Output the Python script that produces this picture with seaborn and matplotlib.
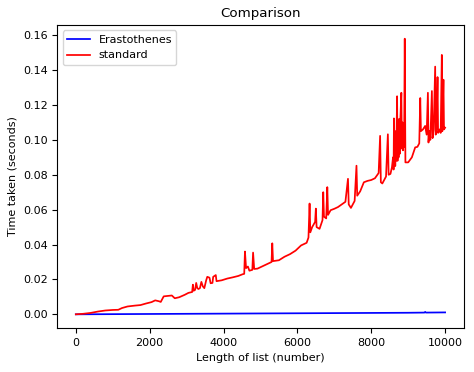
import pandas as pd
import matplotlib
matplotlib.use("Agg")
import matplotlib.pyplot as plt
import seaborn as sns

# dlugosc listy i czasy
dlugosc_std = [0, 200, 400, 600, 800, 1000, 1150, 1250, 1400, 1600, 1750, 1900, 2050, 2150, 2250, 2300,
               2380, 2500, 2600, 2680, 2800, 2950, 3050, 3150, 3170, 3190, 3230, 3260, 3290, 3320, 3360,
               3400, 3440, 3480, 3530, 3560, 3620, 3650, 3700, 3720, 3790, 3810, 3950, 4100, 4250, 4400,
               4520, 4560, 4580, 4610, 4660, 4700, 4780, 4800, 4830, 4920, 5050, 5200, 5300, 5320, 5340,
               5500, 5650, 5800, 5950, 6100, 6250, 6300, 6330, 6350, 6400, 6480, 6500, 6520, 6600, 6680,
               6700, 6720, 6780, 6810, 6830, 6900, 7000, 7100, 7200, 7300, 7370, 7390, 7450, 7550, 7600,
               7620, 7700, 7800, 7900, 8000, 8100, 8200, 8240, 8260, 8300, 8400, 8450, 8470, 8520, 8560,
               8590, 8605, 8615, 8625, 8640, 8650, 8665, 8675, 8690, 8700, 8712, 8725, 8740, 8755, 8770,
               8785, 8800, 8815, 8830, 8845, 8860, 8875, 8890, 8907, 8925, 9000, 9100, 9190, 9250, 9300,
               9327, 9345, 9400, 9460, 9500, 9534, 9550, 9575, 9600, 9642, 9660, 9690, 9731, 9745, 9770,
               9795, 9810, 9850, 9880, 9911, 9925, 9955, 9970, 10000]
czas_std = [0.0, 0.0003, 0.0008, 0.0016, 0.0022, 0.0025, 0.0026, 0.0036, 0.0045, 0.0050, 0.0053, 0.0062,
            0.0070, 0.0080, 0.0075, 0.0071, 0.0103, 0.0106, 0.0108, 0.0092, 0.0098, 0.0112, 0.0123, 0.0128,
            0.0170, 0.0135, 0.0140, 0.0180, 0.0150, 0.0145, 0.0150, 0.0186, 0.0160, 0.0150, 0.0195, 0.0215,
            0.0210, 0.0178, 0.0180, 0.0215, 0.0225, 0.0190, 0.0195, 0.0205, 0.0212, 0.0220, 0.0230, 0.0232,
            0.0360, 0.0265, 0.0274, 0.0250, 0.0255, 0.0354, 0.0260, 0.0262, 0.0275, 0.0290, 0.0300, 0.0407,
            0.0305, 0.0310, 0.0330, 0.0345, 0.0365, 0.0395, 0.0410, 0.0440, 0.0635, 0.0470, 0.0500, 0.0530,
            0.0606, 0.0500, 0.0490, 0.0540, 0.0700, 0.0560, 0.0550, 0.0729, 0.0570, 0.0597, 0.0605, 0.0615,
            0.0630, 0.0645, 0.0777, 0.0630, 0.0610, 0.0650, 0.0852, 0.0680, 0.0705, 0.0757, 0.0765, 0.0770,
            0.0780, 0.0810, 0.1023, 0.0757, 0.0750, 0.0790, 0.1032, 0.0800, 0.0805, 0.0843,
            0.0900, 0.0830, 0.1123, 0.0860, 0.1000, 0.0850, 0.1050, 0.0880, 0.1100, 0.1250, 0.0880, 0.1080,
            0.0900, 0.1120, 0.0920, 0.1100, 0.1180, 0.1270, 0.0950, 0.1100, 0.0940, 0.1050, 0.0960, 0.1580,
            0.0871, 0.0871, 0.0900, 0.0957, 0.0960, 0.0980, 0.1240, 0.1050, 0.1060, 0.1080, 0.1030, 0.1270,
            0.0985, 0.1050, 0.1000, 0.1280, 0.1010, 0.1060, 0.1420, 0.1030, 0.1070, 0.1360, 0.1040, 0.1060,
            0.1040, 0.1487, 0.1050, 0.1345, 0.1060, 0.1070]

dlugosc_era = [0, 1000, 2000, 3000, 4000, 5000, 6000, 7000, 8000, 9000, 9440, 9460, 9480, 10000]
czas_era = [0.0, 0.0001, 0.0002, 0.0003, 0.0004, 0.0005, 0.0006, 0.0007, 0.0008, 0.0009, 0.0010, 0.0014,
            0.0010, 0.0011]

df_std = pd.DataFrame({"Length": dlugosc_std, "Time": czas_std})
df_era = pd.DataFrame({"Length": dlugosc_era, "Time": czas_era})

plt.rcParams["font.size"] = 8.0
fig = plt.figure(figsize=(4.74, 3.72), dpi=100)
ax = fig.add_axes([0.121, 0.118, 0.857, 0.815])

sns.lineplot(data=df_era, x="Length", y="Time", color="b", label="Erastothenes", estimator=None, sort=False, linewidth=1.25, ax=ax)
sns.lineplot(data=df_std, x="Length", y="Time", color="r", label="standard", estimator=None, sort=False, linewidth=1.25, ax=ax)

ax.set_title("Comparison", fontsize=9.6)
ax.set_xlabel("Length of list (number)")
ax.set_ylabel("Time taken (seconds)")
ax.legend(loc="upper left")
fig.savefig("out.png", dpi=100)
